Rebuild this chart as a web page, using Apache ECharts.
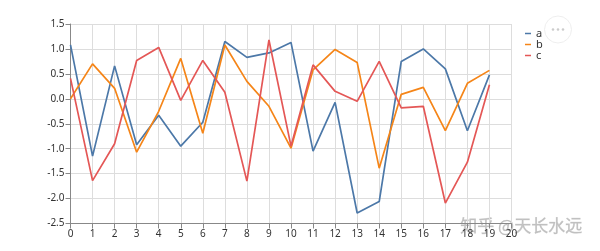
<!DOCTYPE html>
<html>
<head>
<meta charset="utf-8">
<script src="https://cdn.jsdelivr.net/npm/echarts@6/dist/echarts.min.js"></script>
<style>html,body{margin:0;padding:0;background:#fff}#c{width:600px;height:251px}</style>
</head>
<body>
<div id="c"></div>
<script>
const xValues = [0,1,2,3,4,5,6,7,8,9,10,11,12,13,14,15,16,17,18,19];
const seriesA = [1.08,-1.15,0.66,-0.92,-0.33,-0.95,-0.47,1.15,0.83,0.92,1.13,-1.05,-0.07,-2.29,-2.06,0.75,1.0,0.6,-0.64,0.48];
const seriesB = [0.0,0.70,0.21,-1.07,-0.25,0.81,-0.69,1.08,0.35,-0.15,-0.99,0.58,0.99,0.73,-1.39,0.09,0.23,-0.64,0.31,0.57];
const seriesC = [0.41,-1.64,-0.90,0.77,1.03,-0.03,0.77,0.13,-1.65,1.18,-0.95,0.68,0.15,-0.05,0.75,-0.18,-0.15,-2.09,-1.27,0.28];
const seriesNames = ['a','b','c'];
const colors = ['#4c78a8','#f58518','#e45756'];

const pair = (arr) => xValues.map((x,i)=>[x,arr[i]]);
const chart = echarts.init(document.getElementById('c'));
const axisCommon = {
  axisLine:{show:true,onZero:false,lineStyle:{color:'#888',width:1}},
  axisTick:{show:true,length:5,lineStyle:{color:'#888'}},
  axisLabel:{color:'#333',fontSize:10,fontFamily:'Noto Sans, sans-serif'},
  splitLine:{show:true,lineStyle:{color:'#ddd',width:1}}
};
chart.setOption({
  animation:false,
  color:colors,
  grid:{left:70.5,right:88.5,top:24,bottom:27.5,containLabel:false},
  legend:{
    orient:'vertical',left:520,top:23,itemWidth:6,itemHeight:1.5,itemGap:0,padding:5,
    icon:'rect',textStyle:{fontSize:11,lineHeight:10.5,height:10.5,color:'#333',fontFamily:'Noto Sans, sans-serif'},
    data:seriesNames
  },
  xAxis:Object.assign({type:'value',min:0,max:20,interval:1},axisCommon,{axisLabel:Object.assign({},axisCommon.axisLabel,{margin:6})}),
  yAxis:Object.assign({type:'value',min:-2.5,max:1.5,interval:0.5},axisCommon,{axisLabel:Object.assign({},axisCommon.axisLabel,{margin:6,formatter:v=>v.toFixed(1)})}),
  series:[seriesA,seriesB,seriesC].map((d,i)=>({
    name:seriesNames[i],type:'line',data:pair(d),symbol:'none',
    lineStyle:{width:1.7,color:colors[i]},itemStyle:{color:colors[i]}
  })),
  graphic:[
    {type:'circle',shape:{cx:558,cy:29.5,r:13.5},style:{fill:'#fff',stroke:'#eee',lineWidth:1}},
    {type:'circle',shape:{cx:553,cy:29.5,r:1.3},style:{fill:'#ccc'}},
    {type:'circle',shape:{cx:558,cy:29.5,r:1.3},style:{fill:'#ccc'}},
    {type:'circle',shape:{cx:563,cy:29.5,r:1.3},style:{fill:'#ccc'}},
    {type:'text',left:460,top:217,style:{text:'知乎 @天长水远',fontSize:17,fill:'rgba(170,170,170,0.7)',stroke:'rgba(120,120,120,0.25)',lineWidth:0.5,fontFamily:'Noto Sans CJK SC, sans-serif'}}
  ]
});
</script>
</body>
</html>
